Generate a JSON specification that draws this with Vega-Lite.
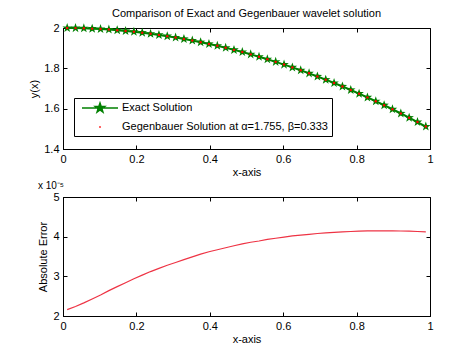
{
  "$schema": "https://vega.github.io/schema/vega-lite/v6.json",
  "background": "white",
  "padding": {"left": 28, "top": 7, "right": 5, "bottom": 5},
  "spacing": 2,
  "config": {
    "font": "Liberation Sans",
    "view": {"stroke": "black", "strokeWidth": 1},
    "axis": {"labelFontSize": 11, "titleFontSize": 11, "titleFontWeight": "normal", "labelColor": "black", "titleColor": "black", "domainColor": "black", "tickColor": "black", "tickSize": -4, "labelPadding": 8, "grid": false, "labelFlush": false, "labelOverlap": false, "labelFont": "Liberation Sans", "titleFont": "Liberation Sans"},
    "title": {"font": "Liberation Sans", "color": "black"}
  },
  "datasets": {
    "sol": [
      {"x":0.0114,"y":1.9999,"err":0.0000216},
      {"x":0.0341,"y":1.9994,"err":0.0000224},
      {"x":0.0568,"y":1.9984,"err":0.0000233},
      {"x":0.0795,"y":1.9968,"err":0.0000243},
      {"x":0.1023,"y":1.9948,"err":0.0000253},
      {"x":0.125,"y":1.9922,"err":0.0000264},
      {"x":0.1477,"y":1.9891,"err":0.0000274},
      {"x":0.1705,"y":1.9855,"err":0.0000284},
      {"x":0.1932,"y":1.9813,"err":0.0000294},
      {"x":0.2159,"y":1.9767,"err":0.0000303},
      {"x":0.2386,"y":1.9715,"err":0.0000312},
      {"x":0.2614,"y":1.9658,"err":0.0000320},
      {"x":0.2841,"y":1.9596,"err":0.0000328},
      {"x":0.3068,"y":1.9529,"err":0.0000335},
      {"x":0.3295,"y":1.9457,"err":0.0000342},
      {"x":0.3523,"y":1.938,"err":0.0000349},
      {"x":0.375,"y":1.9297,"err":0.0000356},
      {"x":0.3977,"y":1.9209,"err":0.0000362},
      {"x":0.4205,"y":1.9116,"err":0.0000367},
      {"x":0.4432,"y":1.9018,"err":0.0000372},
      {"x":0.4659,"y":1.8915,"err":0.0000377},
      {"x":0.4886,"y":1.8806,"err":0.0000382},
      {"x":0.5114,"y":1.8693,"err":0.0000386},
      {"x":0.5341,"y":1.8574,"err":0.0000389},
      {"x":0.5568,"y":1.845,"err":0.0000393},
      {"x":0.5795,"y":1.8321,"err":0.0000396},
      {"x":0.6023,"y":1.8186,"err":0.0000399},
      {"x":0.625,"y":1.8047,"err":0.0000402},
      {"x":0.6477,"y":1.7902,"err":0.0000404},
      {"x":0.6705,"y":1.7752,"err":0.0000406},
      {"x":0.6932,"y":1.7598,"err":0.0000408},
      {"x":0.7159,"y":1.7437,"err":0.00004095},
      {"x":0.7386,"y":1.7272,"err":0.0000411},
      {"x":0.7614,"y":1.7102,"err":0.0000412},
      {"x":0.7841,"y":1.6926,"err":0.0000413},
      {"x":0.8068,"y":1.6745,"err":0.0000414},
      {"x":0.8295,"y":1.6559,"err":0.00004145},
      {"x":0.8523,"y":1.6368,"err":0.00004148},
      {"x":0.875,"y":1.6172,"err":0.00004148},
      {"x":0.8977,"y":1.597,"err":0.00004147},
      {"x":0.9205,"y":1.5764,"err":0.00004143},
      {"x":0.9432,"y":1.5552,"err":0.00004138},
      {"x":0.9659,"y":1.5335,"err":0.0000413},
      {"x":0.9886,"y":1.5113,"err":0.0000412}
    ],
    "series": [
      {"series": "Exact Solution"},
      {"series": "Gegenbauer Solution at α=1.755, β=0.333"}
    ]
  },
  "vconcat": [
    {
      "width": 367,
      "height": 121,
      "title": {"text": "Comparison of Exact and Gegenbauer wavelet solution", "fontSize": 11, "fontWeight": "normal", "offset": 3, "anchor": "middle"},
      "resolve": {"axis": {"x": "independent", "y": "independent"}},
      "layer": [
        {
          "data": {"name": "sol"},
          "mark": {"type": "line", "color": "#008000", "strokeWidth": 2},
          "encoding": {
            "x": {"field": "x", "type": "quantitative", "scale": {"domain": [0, 1], "nice": false, "zero": false}, "axis": {"values": [0, 0.2, 0.4, 0.6, 0.8, 1], "format": "~g", "title": "x-axis", "titlePadding": 2}},
            "y": {"field": "y", "type": "quantitative", "scale": {"domain": [1.4, 2], "nice": false, "zero": false}, "axis": {"values": [1.4, 1.6, 1.8, 2], "format": "~g", "title": "y(x)", "titlePadding": 4}}
          }
        },
        {
          "data": {"name": "sol"},
          "mark": {"type": "point", "filled": true, "opacity": 1, "size": 100, "color": "#008000", "shape": "M0,-1L0.235,-0.324L0.951,-0.309L0.38,0.124L0.588,0.809L0,0.4L-0.588,0.809L-0.38,0.124L-0.951,-0.309L-0.235,-0.324Z"},
          "encoding": {
            "x": {"field": "x", "type": "quantitative", "axis": null},
            "y": {"field": "y", "type": "quantitative", "axis": null}
          }
        },
        {
          "data": {"name": "sol"},
          "mark": {"type": "point", "filled": true, "opacity": 1, "size": 6, "shape": "circle", "color": "#ff0000"},
          "encoding": {
            "x": {"field": "x", "type": "quantitative", "axis": {"orient": "top", "labels": false, "title": null, "domain": false, "values": [0, 0.2, 0.4, 0.6, 0.8, 1]}},
            "y": {"field": "y", "type": "quantitative", "axis": {"orient": "right", "labels": false, "title": null, "domain": false, "values": [1.4, 1.6, 1.8, 2]}}
          }
        },
        {
          "data": {"name": "series"},
          "mark": {"type": "point", "filled": true, "opacity": 0, "size": 100},
          "encoding": {
            "fill": {"field": "series", "type": "nominal",
              "scale": {"domain": ["Exact Solution", "Gegenbauer Solution at α=1.755, β=0.333"], "range": ["#008000", "#ff0000"]},
              "legend": {"orient": "none", "legendX": 11, "legendY": 70, "title": null, "strokeColor": "black", "fillColor": "white", "padding": 4, "labelFontSize": 11, "labelColor": "black", "labelLimit": 400, "rowPadding": 5, "symbolOffset": 16, "labelOffset": 16, "symbolSize": 100, "symbolOpacity": 1, "symbolStrokeWidth": 1.5}},
            "stroke": {"field": "series", "type": "nominal",
              "scale": {"domain": ["Exact Solution", "Gegenbauer Solution at α=1.755, β=0.333"], "range": ["#008000", "transparent"]},
              "legend": {"orient": "none", "legendX": 11, "legendY": 70, "title": null, "strokeColor": "black", "fillColor": "white", "padding": 4, "labelFontSize": 11, "labelColor": "black", "labelLimit": 400, "rowPadding": 5, "symbolOffset": 16, "labelOffset": 16, "symbolSize": 100, "symbolOpacity": 1, "symbolStrokeWidth": 1.5}},
            "shape": {"field": "series", "type": "nominal",
              "scale": {"domain": ["Exact Solution", "Gegenbauer Solution at α=1.755, β=0.333"], "range": ["M-3.6,0H3.6M0,-1L0.235,-0.324L0.951,-0.309L0.38,0.124L0.588,0.809L0,0.4L-0.588,0.809L-0.38,0.124L-0.951,-0.309L-0.235,-0.324Z", "M-0.16,-0.16H0.16V0.16H-0.16Z"]},
              "legend": {"orient": "none", "legendX": 11, "legendY": 70, "title": null, "strokeColor": "black", "fillColor": "white", "padding": 4, "labelFontSize": 11, "labelColor": "black", "labelLimit": 400, "rowPadding": 5, "symbolOffset": 16, "labelOffset": 16, "symbolSize": 100, "symbolOpacity": 1, "symbolStrokeWidth": 1.5}}
          }
        }
      ]
    },
    {
      "width": 367,
      "height": 119,
      "title": {"text": "x 10⁻⁵", "fontSize": 10, "fontWeight": "normal", "offset": 0, "anchor": "start"},
      "data": {"name": "sol"},
      "resolve": {"axis": {"x": "independent", "y": "independent"}},
      "layer": [
        {
          "mark": {"type": "line", "color": "#ee3344", "strokeWidth": 1.2},
          "encoding": {
            "x": {"field": "x", "type": "quantitative", "scale": {"domain": [0, 1], "nice": false, "zero": false}, "axis": {"values": [0, 0.2, 0.4, 0.6, 0.8, 1], "format": "~g", "title": "x-axis", "titlePadding": 2}},
            "y": {"field": "err", "type": "quantitative", "scale": {"domain": [0.00002, 0.00005], "nice": false, "zero": false}, "axis": {"values": [0.00002, 0.00003, 0.00004, 0.00005], "labelExpr": "format(datum.value * 100000, '~g')", "title": "Absolute Error", "titlePadding": 4}}
          }
        },
        {
          "mark": {"type": "point", "opacity": 0},
          "encoding": {
            "x": {"field": "x", "type": "quantitative", "axis": {"orient": "top", "labels": false, "title": null, "domain": false, "values": [0, 0.2, 0.4, 0.6, 0.8, 1]}},
            "y": {"field": "err", "type": "quantitative", "axis": {"orient": "right", "labels": false, "title": null, "domain": false, "values": [0.00002, 0.00003, 0.00004, 0.00005]}}
          }
        }
      ]
    }
  ]
}
